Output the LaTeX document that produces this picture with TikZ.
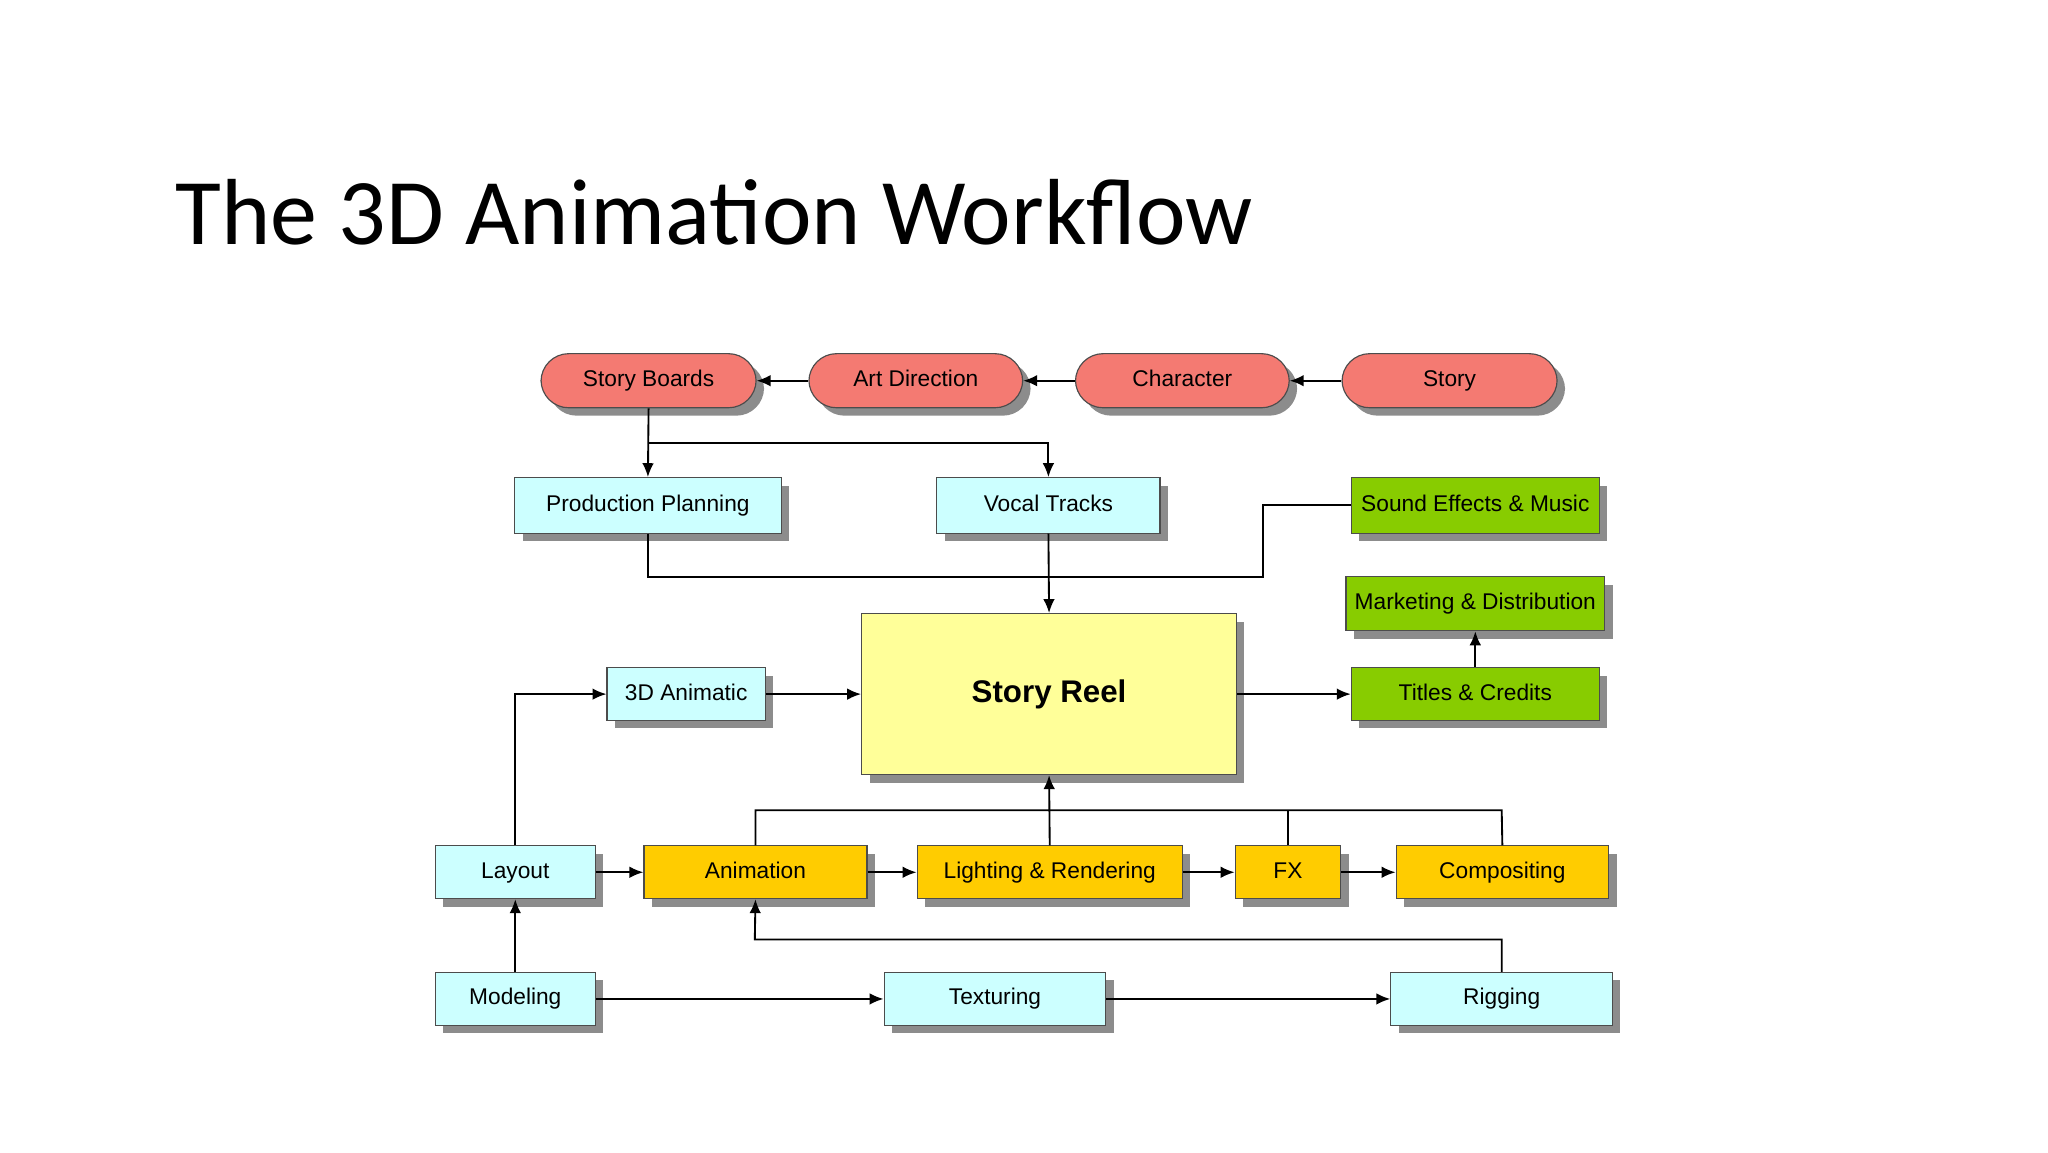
\documentclass[tikz,border=0pt]{standalone}
\usepackage{fontspec}
\setmainfont{Liberation Sans}
\newfontfamily\titlefont{Carlito}
\usetikzlibrary{arrows.meta,shadows}
\definecolor{pillred}{HTML}{F47A72}
\definecolor{lcyan}{HTML}{CCFFFF}
\definecolor{lgreen}{HTML}{88CC00}
\definecolor{lorange}{HTML}{FFCC00}
\definecolor{lyellow}{HTML}{FFFF99}
\newcommand{\mybox}[7]{%
  \pgfmathsetmacro{\cx}{(#2+#4)/2}\pgfmathsetmacro{\cy}{(#3+#5)/2}%
  \pgfmathsetmacro{\ww}{(#4-#2)*0.02}\pgfmathsetmacro{\hh}{(#5-#3)*0.02}%
  \node[#6, minimum width=\ww cm, minimum height=\hh cm] (#1) at (\cx,\cy) {#7};}
\begin{document}
\begin{tikzpicture}[x=0.02cm,y=-0.02cm,
  base/.style={draw=black!70, line width=0.5pt, inner sep=0pt, text height=7.2pt, text depth=2pt,
    font=\fontsize{9.8}{12}\selectfont,
    drop shadow={shadow xshift=0.12cm, shadow yshift=-0.12cm, fill=black!45, opacity=1}},
  pill/.style={base, rounded corners=0.42cm, fill=pillred},
  cyanbox/.style={base, fill=lcyan},
  greenbox/.style={base, fill=lgreen},
  orangebox/.style={base, fill=lorange},
  reelbox/.style={base, fill=lyellow, text height=10pt, text depth=2.5pt, font=\bfseries\fontsize{13.5}{16}\selectfont},
  conn/.style={line width=0.8pt, black},
  arr/.style={conn, -{Latex[length=6pt,width=5pt]}}]
\useasboundingbox (0,0) rectangle (1552,873);
\node[anchor=base west, inner sep=0pt, font=\titlefont\fontsize{40.5}{44}\selectfont] (title) at (133,185) {The 3D Animation Workflow};
\mybox{sb}{410}{268}{573}{309}{pill}{Story Boards}
\mybox{ad}{613}{268}{775}{309}{pill}{Art Direction}
\mybox{ch}{815}{268}{977}{309}{pill}{Character}
\mybox{st}{1017}{268}{1180}{309}{pill}{Story}
\mybox{pp}{390}{362}{592}{404}{cyanbox}{Production Planning}
\mybox{vt}{710}{362}{879}{404}{cyanbox}{Vocal Tracks}
\mybox{se}{1024}{362}{1212}{404}{greenbox}{Sound Effects \& Music}
\mybox{md}{1020}{437}{1216}{478}{greenbox}{Marketing \& Distribution}
\mybox{tc}{1024}{506}{1212}{546}{greenbox}{Titles \& Credits}
\mybox{sr}{653}{465}{937}{587}{reelbox}{Story Reel}
\mybox{an3}{460}{506}{580}{546}{cyanbox}{3D Animatic}
\mybox{la}{330}{641}{451}{681}{cyanbox}{Layout}
\mybox{am}{488}{641}{657}{681}{orangebox}{Animation}
\mybox{lr}{695}{641}{896}{681}{orangebox}{Lighting \& Rendering}
\mybox{fx}{936}{641}{1016}{681}{orangebox}{FX}
\mybox{co}{1058}{641}{1219}{681}{orangebox}{Compositing}
\mybox{mo}{330}{737}{451}{777}{cyanbox}{Modeling}
\mybox{tx}{670}{737}{838}{777}{cyanbox}{Texturing}
\mybox{ri}{1054}{737}{1222}{777}{cyanbox}{Rigging}
% top chain
\draw[arr] (st) -- (ch);
\draw[arr] (ch) -- (ad);
\draw[arr] (ad) -- (sb);
\coordinate (j1) at (491,336);
\draw[arr] (sb.south) -- (pp.north);
\draw[arr] (j1) -| (vt.north);
% into story reel
\coordinate (j2) at (795,437);
\draw[conn] (pp.south) |- (j2);
\draw[conn] (se.west) -| (957,437) -- (j2);
\draw[arr] (vt.south) -- (sr.north);
\draw[arr] (sr) -- (tc);
\draw[arr] (tc) -- (md);
\draw[arr] (an3) -- (sr);
\draw[arr] (la.north) |- (an3.west);
\draw[arr] (mo) -- (la);
\draw[arr] (la) -- (am);
\draw[arr] (am) -- (lr);
\draw[arr] (lr) -- (fx);
\draw[arr] (fx) -- (co);
% bus to story reel
\draw[conn] (am.north) |- (1138,614) -- (co.north);
\draw[conn] (fx.north) -- (976,614);
\draw[arr] (lr.north) -- (sr.south);
% rigging to animation
\draw[arr] (ri.north) |- (572,712) -- (am.south);
\draw[arr] (mo) -- (tx);
\draw[arr] (tx) -- (ri);
\end{tikzpicture}
\end{document}
